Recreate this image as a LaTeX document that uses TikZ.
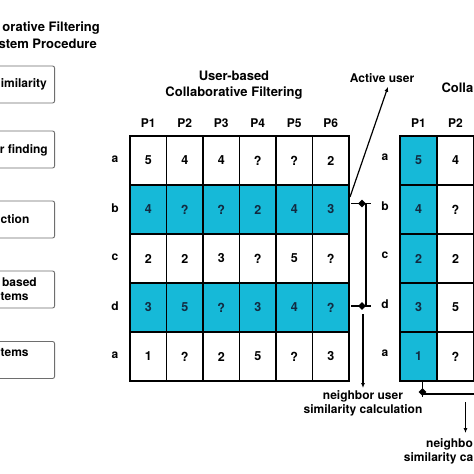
\documentclass[tikz,border=0pt]{standalone}
\usepackage{fontspec}
\setmainfont{TeX Gyre Heros}
\usetikzlibrary{shapes.geometric,arrows.meta,calc}
\definecolor{cyanc}{RGB}{22,185,216}
\definecolor{navy}{RGB}{18,42,64}
\definecolor{boxgray}{RGB}{110,110,110}
\begin{document}
\begin{tikzpicture}[x=1pt,y=-1pt,
 txt/.style={font=\bfseries\fontsize{12}{14}\selectfont, inner sep=0, align=center},
 ttl/.style={font=\bfseries\fontsize{13}{16}\selectfont, inner sep=0, align=center},
 cell/.style={draw=black, line width=1.8pt, minimum width=36.5pt, minimum height=49pt, inner sep=0, outer sep=0, anchor=north west, font=\bfseries\fontsize{12.5}{14}\selectfont},
 hi/.style={fill=cyanc, text=navy},
 stepbox/.style={draw=boxgray, line width=0.9pt, rounded corners=2pt, minimum width=130pt, minimum height=37pt, anchor=east, inner sep=0},
 dmd/.style={diamond, fill=black, minimum size=8pt, inner sep=0},
 conn/.style={line width=1.2pt},
 arr/.style={line width=1.2pt, -{Latex[length=5pt,width=4pt]}}
]
\useasboundingbox (0,0) rectangle (474,474);
\clip (0,0) rectangle (474,474);
\fill[white] (0,0) rectangle (474,474);

% left title
\node[ttl, anchor=east] (lt1) at (100,28) {orative Filtering};
\node[ttl, anchor=east] (lt2) at (97,44) {stem Procedure};

% left step boxes
\node[stepbox] (s1) at (55,84.5) {};
\node[stepbox] (s2) at (55,149.5) {};
\node[stepbox] (s3) at (55,219.5) {};
\node[stepbox] (s4) at (55,289.5) {};
\node[stepbox] (s5) at (55,360) {};
\node[txt, anchor=east] (s1t) at (47,84) {imilarity};
\node[txt, anchor=east] (s2t) at (48,150) {r finding};
\node[txt, anchor=west] (s3t) at (0.5,219) {ction};
\node[txt, anchor=east] (s4t) at (37,282) {based};
\node[txt, anchor=west] (s4u) at (0.5,297) {tems};
\node[txt, anchor=west] (s5t) at (0.5,353) {tems};

% main table title
\node[ttl] (ubt) at (234,85) {User-based\\Collaborative Filtering};

% headers
\foreach \p [count=\i] in {P1,P2,P3,P4,P5,P6}
  \node[txt] (h\i) at ({148.25+36.5*(\i-1)},123) {\p};
% row labels
\foreach \l [count=\j] in {a,b,c,d,a}
  \node[txt] (ml\j) at (115,{159.5+49*(\j-1)}) {\l};

% main cells
\foreach \v [count=\i] in {5,4,4,?,?,2}
  \node[cell] (m1-\i) at ({130+36.5*(\i-1)},136) {\v};
\foreach \v [count=\i] in {4,?,?,2,4,3}
  \node[cell,hi] (m2-\i) at ({130+36.5*(\i-1)},185) {\v};
\foreach \v [count=\i] in {2,2,3,?,5,?}
  \node[cell] (m3-\i) at ({130+36.5*(\i-1)},234) {\v};
\foreach \v [count=\i] in {3,5,?,3,4,?}
  \node[cell,hi] (m4-\i) at ({130+36.5*(\i-1)},283) {\v};
\foreach \v [count=\i] in {1,?,2,5,?,3}
  \node[cell] (m5-\i) at ({130+36.5*(\i-1)},332) {\v};

% right table
\node[ttl, anchor=east] (rt) at (473.5,88) {Colla};
\node[txt] (rh1) at (418.5,123) {P1};
\node[txt] (rh2) at (455.5,123) {P2};
\foreach \l [count=\j] in {a,b,c,d,a}
  \node[txt] (rl\j) at (385,{157+49*(\j-1)}) {\l};
\foreach \v [count=\j] in {5,4,2,3,1}
  \node[cell,hi,minimum width=37pt] (r1-\j) at (400,{136+49*(\j-1)}) {\v};
\foreach \v [count=\j] in {4,?,2,5,?}
  \node[cell,minimum width=37pt] (r2-\j) at (437,{136+49*(\j-1)}) {\v};

% active user
\node[txt] (active) at (382,78) {Active user};
\coordinate (au0) at ($(m2-6.north east)+(1,12)$);
\draw[arr] (au0) -- ($(active.south)+(6,4)$);

% neighbor bracket
\coordinate (bt) at ($(m2-6.east)+(2,-6)$);
\coordinate (dt) at ($(m4-6.east)+(2,-1.5)$);
\draw[conn] (bt) -- ++(20,0);
\draw[conn] (dt) -- ++(20,0);
\draw[conn] ($(bt)+(15,0)$) -- ($(dt)+(15,0)$);
\node[dmd] (d1) at ($(bt)+(11,0)$) {};
\node[dmd] (d2) at ($(dt)+(11,0)$) {};
\node[txt] (nu) at (363,403) {neighbor user\\similarity calculation};
\draw[arr] ($(d2.south)+(1,4)$) -- ($(nu.north)+(0,-2)$);

% right bottom connector
\coordinate (rb) at ($(r1-5.south)+(4,0)$);
\draw[conn] (rb) -- ++(0,16);
\draw[conn] ($(rb)+(0,13)$) -- ++(60,0);
\node[dmd] (d3) at ($(rb)+(0,11)$) {};
\node[txt, anchor=west] (ni1) at (426,444) {neighbo};
\node[txt, anchor=east] (ni2) at (473.5,458) {similarity ca};
\draw[arr] ($(rb)+(43,21)$) -- ($(rb)+(43,52)$);
\end{tikzpicture}
\end{document}
